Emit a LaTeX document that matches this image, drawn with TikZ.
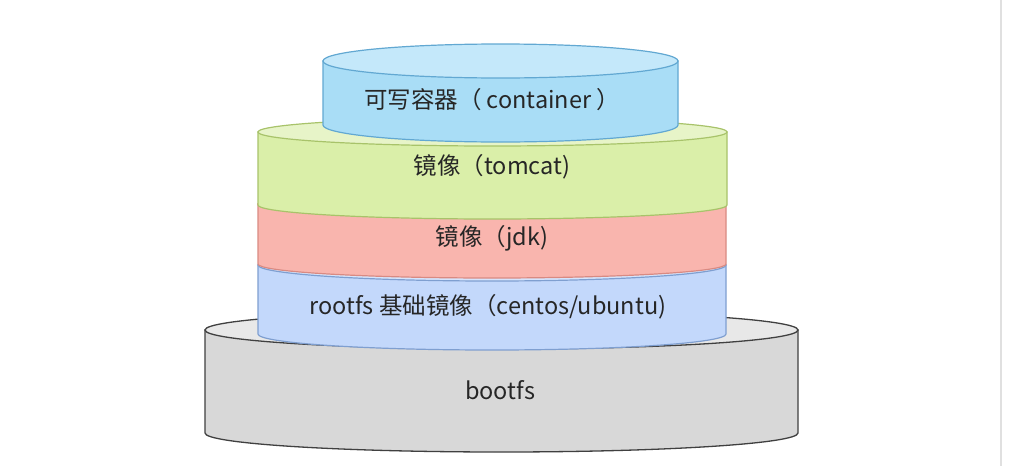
\documentclass[tikz,border=0pt]{standalone}
\usepackage{fontspec}
\setmainfont{Noto Sans CJK SC}
\begin{document}
\begin{tikzpicture}[x=1pt,y=-1pt,
  lbl/.style={font=\fontsize{23.5}{26}\selectfont, text=black!85}]
\useasboundingbox (0,0) rectangle (1028,466);
\fill[white] (0,0) rectangle (1028,466);
\draw[black!12, line width=1.5pt] (1001,0) -- (1001,466);
% #1 x1, #2 x2, #3 ytop, #4 ybot, #5 ry, #6 body, #7 top, #8 stroke, #9 lw
\newcommand\mycyl[9]{%
  \pgfmathsetmacro\rx{(#2-#1)/2}%
  \pgfmathsetmacro\cx{(#2+#1)/2}%
  \filldraw[fill=#6, draw=#8, line width=#9] (#1,#3) -- (#1,#4)
     arc[start angle=180, end angle=0, x radius=\rx, y radius=#5] -- (#2,#3) -- cycle;
  \filldraw[fill=#7, draw=#8, line width=#9] (\cx,#3) ellipse[x radius=\rx, y radius=#5];
}
\definecolor{gbody}{HTML}{D8D8D8}\definecolor{gtop}{HTML}{E8E8E8}
\definecolor{bbody}{HTML}{C3D8FB}\definecolor{btop}{HTML}{D6E4FC}\definecolor{bline}{HTML}{7F9FD0}
\definecolor{rbody}{HTML}{F9B5AE}\definecolor{rtop}{HTML}{FBC9C4}\definecolor{rline}{HTML}{D98A82}
\definecolor{lbody}{HTML}{DAEFA9}\definecolor{ltop}{HTML}{E7F4C8}\definecolor{lline}{HTML}{A8C36A}
\definecolor{cbody}{HTML}{A9DDF6}\definecolor{ctop}{HTML}{C4E8FA}\definecolor{cline}{HTML}{62A8D2}
\mycyl{205}{798}{330}{433}{19}{gbody}{gtop}{black!75}{1.3pt}
\mycyl{258}{726}{265}{334}{16}{bbody}{btop}{bline}{1.2pt}
\mycyl{258}{726}{204}{264}{14}{rbody}{rtop}{rline}{1.2pt}
\mycyl{258}{727}{132}{205}{14}{lbody}{ltop}{lline}{1.2pt}
\mycyl{323}{678}{61}{125}{17}{cbody}{ctop}{cline}{1.2pt}
\node[lbl] (c) at (492,100) {可写容器（ container ）};
\node[lbl] (t) at (492,167) {镜像（tomcat)};
\node[lbl] (j) at (492,238) {镜像（jdk)};
\node[lbl] (r) at (488,307) {rootfs 基础镜像（centos/ubuntu)};
\node[lbl] (b) at (500,390) {bootfs};
\end{tikzpicture}
\end{document}
